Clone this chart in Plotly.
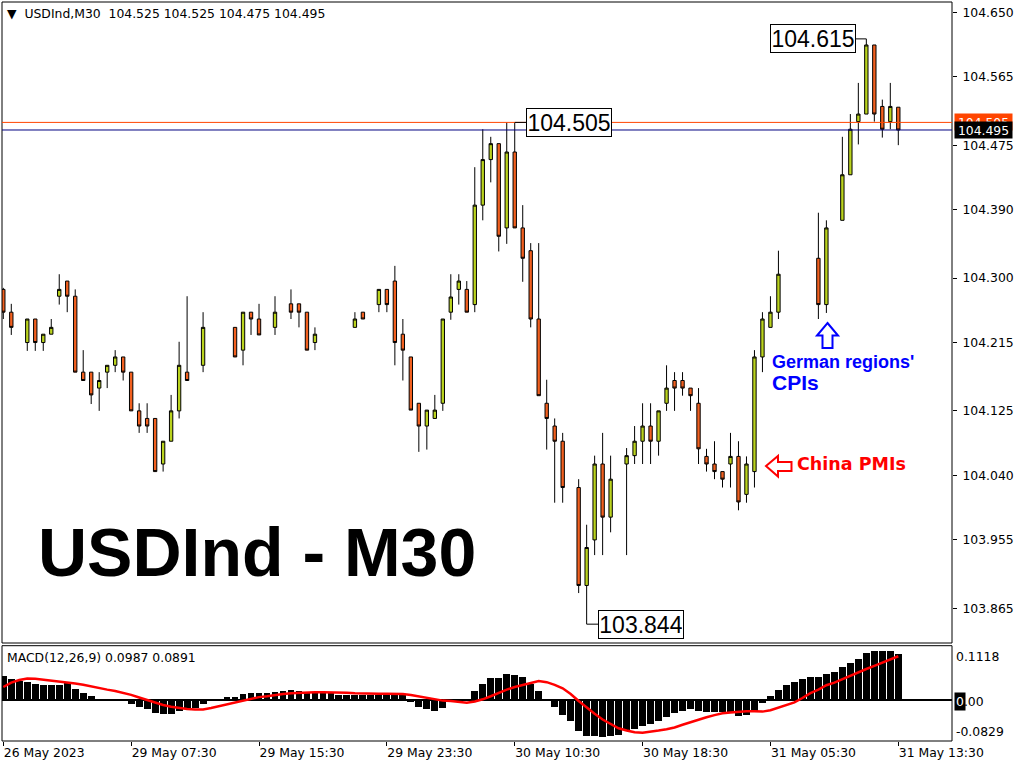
import plotly.graph_objects as go

# ---------------- data ----------------
bars = list(range(113))

opens = [104.285, 104.255, None, 104.215, 104.246, 104.215, 104.226, 104.276, 104.296, 104.276,
         104.176, 104.176, 104.155, 104.176, 104.185, 104.196, 104.176, 104.125, 104.115, 104.115,
         104.055, 104.085, 104.125, 104.176, None, 104.185, None, None, None, 104.235,
         104.205, 104.255, 104.246, None, 104.235, None, 104.266, 104.266, 104.255, 104.215,
         None, None, None, None, 104.235, 104.255, None, 104.265, 104.285, 104.296,
         104.226, 104.196, 104.135, 104.105, 104.115, 104.135, 104.255, 104.285, 104.285, 104.265,
         104.396, 104.456, 104.477, 104.366, 104.466, 104.366, 104.336, 104.246, 104.135, 104.105,
         104.085, None, 104.024, 103.895, 103.955, 104.055, 103.985, None, 104.055, 104.066,
         104.085, 104.105, 104.085, 104.135, 104.165, 104.165, 104.155, 104.135, 104.065, 104.055,
         104.045, 104.055, 104.065, 104.015, 104.045, 104.196, 104.235, 104.255, None, None,
         None, None, 104.326, 104.265, None, 104.376, 104.436, 104.506, 104.516, 104.607,
         104.526, 104.506, 104.525]
highs = [104.287, 104.266, None, 104.246, 104.246, 104.226, 104.246, 104.305, 104.296, 104.285,
         104.205, 104.176, 104.176, 104.185, 104.205, 104.196, 104.176, 104.135, 104.135, 104.115,
         104.085, 104.146, 104.216, 104.276, None, 104.255, None, None, None, 104.235,
         104.255, 104.255, 104.266, None, 104.276, None, 104.285, 104.266, 104.255, 104.235,
         None, None, None, None, 104.255, 104.255, None, 104.285, 104.285, 104.316,
         104.246, 104.196, 104.135, 104.126, 104.146, 104.246, 104.305, 104.305, 104.296, 104.446,
         104.496, 104.486, 104.477, 104.505, 104.505, 104.396, 104.346, 104.346, 104.166, 104.115,
         104.096, None, 104.035, 103.975, 104.066, 104.096, 104.066, None, 104.076, 104.105,
         104.135, 104.135, 104.125, 104.185, 104.176, 104.176, 104.155, 104.155, 104.075, 104.085,
         104.045, 104.096, 104.085, 104.065, 104.205, 104.255, 104.276, 104.336, None, None,
         None, None, 104.386, 104.376, None, 104.486, 104.516, 104.557, 104.615, 104.607,
         104.535, 104.557, 104.525]
lows = [104.246, 104.225, None, 104.204, 104.204, 104.204, 104.226, 104.265, 104.255, 104.176,
        104.165, 104.134, 104.125, 104.155, 104.176, 104.165, 104.125, 104.096, 104.096, 104.045,
        104.045, 104.085, 104.115, 104.165, None, 104.176, None, None, None, 104.196,
        104.185, 104.225, 104.225, None, 104.225, None, 104.246, 104.235, 104.205, 104.205,
        None, None, None, None, 104.235, 104.246, None, 104.255, 104.255, 104.185,
        104.165, 104.126, 104.071, 104.074, 104.115, 104.125, 104.245, 104.265, 104.255, 104.255,
        104.376, 104.426, 104.335, 104.345, 104.366, 104.295, 104.235, 104.145, 104.074, 104.004,
        104.004, None, 103.885, 103.844, 103.935, 103.935, 103.965, None, 103.935, 104.055,
        104.055, 104.055, 104.066, 104.125, 104.125, 104.145, 104.125, 104.055, 104.045, 104.035,
        104.024, 104.024, 103.994, 104.004, 104.024, 104.176, 104.235, 104.246, None, None,
        None, None, 104.246, 104.254, None, 104.376, 104.436, 104.476, 104.516, 104.506,
        104.485, 104.496, 104.475]
closes = [104.255, 104.235, None, 104.246, 104.215, 104.226, 104.235, 104.285, 104.276, 104.176,
          104.165, 104.146, 104.165, 104.185, 104.196, 104.176, 104.125, 104.105, 104.105, 104.045,
          104.085, 104.125, 104.185, 104.165, None, 104.235, None, None, None, 104.196,
          104.255, 104.246, 104.225, None, 104.255, None, 104.255, 104.255, 104.205, 104.226,
          None, None, None, None, 104.246, 104.246, None, 104.285, 104.265, 104.215,
          104.205, 104.126, 104.105, 104.126, 104.126, 104.246, 104.275, 104.296, 104.255, 104.396,
          104.456, 104.477, 104.355, 104.466, 104.366, 104.326, 104.246, 104.145, 104.115, 104.085,
          104.024, None, 103.895, 103.945, 104.055, 103.985, 104.035, None, 104.066, 104.085,
          104.105, 104.085, 104.125, 104.155, 104.155, 104.155, 104.145, 104.075, 104.055, 104.045,
          104.035, 104.065, 104.005, 104.055, 104.196, 104.246, 104.255, 104.305, None, None,
          None, None, 104.265, 104.366, None, 104.436, 104.496, 104.516, 104.607, 104.516,
          104.496, 104.526, 104.495]

macd_hist = [0.0548, 0.0495, 0.0441, 0.0419, 0.0380, 0.0358, 0.0358, 0.0358, 0.0419, 0.0266,
             0.0175, 0.0107, 0.0038, 0.0005, 0.0000, -0.0008, -0.0076, -0.0152, -0.0198, -0.0282,
             -0.0312, -0.0312, -0.0236, -0.0205, -0.0167, -0.0076, 0.0000, 0.0030, 0.0084, 0.0084,
             0.0137, 0.0160, 0.0160, 0.0160, 0.0183, 0.0205, 0.0228, 0.0205, 0.0183, 0.0183,
             0.0183, 0.0183, 0.0129, 0.0129, 0.0129, 0.0129, 0.0129, 0.0129, 0.0175, 0.0129,
             0.0129, -0.0038, -0.0137, -0.0190, -0.0243, -0.0175, -0.0015, 0.0000, 0.0038, 0.0205,
             0.0373, 0.0510, 0.0510, 0.0598, 0.0582, 0.0525, 0.0380, 0.0205, 0.0000, -0.0145,
             -0.0335, -0.0472, -0.0700, -0.0807, -0.0799, -0.0829, -0.0814, -0.0791, -0.0670, -0.0654,
             -0.0571, -0.0533, -0.0472, -0.0365, -0.0289, -0.0228, -0.0183, -0.0228, -0.0266, -0.0259,
             -0.0259, -0.0259, -0.0358, -0.0327, -0.0243, -0.0061, 0.0091, 0.0228, 0.0350, 0.0426,
             0.0479, 0.0525, 0.0525, 0.0594, 0.0654, 0.0761, 0.0860, 0.0951, 0.1088, 0.1118,
             0.1118, 0.1118, 0.1065]
macd_signal = [0.030, 0.040, 0.046, 0.0495, 0.049, 0.047, 0.0455, 0.043, 0.041, 0.038,
               0.035, 0.031, 0.027, 0.024, 0.021, 0.017, 0.012, 0.006, 0.000, -0.006,
               -0.011, -0.015, -0.018, -0.020, -0.021, -0.021, -0.018, -0.014, -0.010, -0.006,
               -0.002, 0.003, 0.007, 0.009, 0.012, 0.014, 0.016, 0.017, 0.018, 0.018,
               0.018, 0.018, 0.018, 0.017, 0.016, 0.015, 0.015, 0.0145, 0.0145, 0.0145,
               0.014, 0.012, 0.009, 0.006, 0.002, -0.001, -0.002, -0.004, -0.006, -0.003,
               0.002, 0.009, 0.017, 0.024, 0.030, 0.034, 0.039, 0.0434, 0.041, 0.035,
               0.027, 0.014, -0.002, -0.017, -0.031, -0.044, -0.054, -0.064, -0.069, -0.073,
               -0.074, -0.072, -0.069, -0.066, -0.062, -0.056, -0.050, -0.044, -0.039, -0.034,
               -0.030, -0.028, -0.026, -0.025, -0.025, -0.026, -0.023, -0.017, -0.012, -0.005,
               0.005, 0.016, 0.024, 0.034, 0.040, 0.048, 0.055, 0.063, 0.071, 0.078,
               0.085, 0.092, 0.100]

x_tick_idx = [0, 16, 32, 48, 64, 80, 96, 112]
x_tick_labels = ["26 May 2023", "29 May 07:30", "29 May 15:30", "29 May 23:30",
                 "30 May 10:30", "30 May 18:30", "31 May 05:30", "31 May 13:30"]
price_ticks = [104.650, 104.565, 104.475, 104.390, 104.300, 104.215, 104.125, 104.040, 103.955, 103.865]
macd_tick_labels = ["0.1118", "0.00", "-0.0829"]

header_text = "USDInd,M30\u00a0\u00a0104.525 104.525 104.475 104.495"
macd_text = "MACD(12,26,9) 0.0987 0.0891"
title_text = "USDInd - M30"
bid_price = 104.495
ask_price = 104.505
hi1_idx, hi1_val = 64, 104.505
lo_idx, lo_val = 73, 103.844
hi2_idx, hi2_val = 108, 104.615

# ---------------- styling ----------------
GREEN = "#BAD31E"
ORANGE = "#F2601F"
SMALL = "DejaVu Sans"
FS = 12.4

W, H = 1024, 768
ML, MR, MT, MB = 2, 72, 2, 27
PW, PH = W - ML - MR, H - MT - MB


def ppy(py):  # pixel y -> paper y
    return (H - MB - py) / PH


def ppx(px):  # pixel x -> paper x
    return (px - ML) / PW


def ppath(points):
    return "M " + " L ".join(f"{ppx(a):.5f},{ppy(b):.5f}" for a, b in points) + " Z"


main_dom = [ppy(643), 1.0]
macd_dom = [0.0, ppy(645.7)]
X_RANGE = [-0.163, 118.72]
Y_RANGE = [103.8192, 104.6636]
Y2_RANGE = [-0.0929, 0.124]

cx = [i for i in bars if opens[i] is not None]

fig = go.Figure()
fig.add_trace(go.Candlestick(
    x=cx,
    open=[opens[i] for i in cx], high=[highs[i] for i in cx],
    low=[lows[i] for i in cx], close=[closes[i] for i in cx],
    xaxis="x", yaxis="y",
    increasing=dict(line=dict(color="black", width=1), fillcolor=GREEN),
    decreasing=dict(line=dict(color="black", width=1), fillcolor=ORANGE),
    whiskerwidth=0, hoverinfo="skip", showlegend=False))
fig.add_trace(go.Bar(
    x=bars, y=macd_hist, xaxis="x", yaxis="y2", width=0.86,
    marker=dict(color="black", line=dict(width=0)), hoverinfo="skip", showlegend=False))
fig.add_trace(go.Scatter(
    x=bars, y=macd_signal, xaxis="x", yaxis="y2", mode="lines",
    line=dict(color="#FF0000", width=2.5), hoverinfo="skip", showlegend=False))

shapes = [
    dict(type="rect", xref="paper", yref="paper", x0=0, x1=1, y0=main_dom[0], y1=main_dom[1],
         line=dict(color="black", width=1), fillcolor="rgba(0,0,0,0)"),
    dict(type="rect", xref="paper", yref="paper", x0=0, x1=1, y0=macd_dom[0], y1=macd_dom[1],
         line=dict(color="black", width=1), fillcolor="rgba(0,0,0,0)"),
    dict(type="line", xref="paper", yref="y", x0=0, x1=1, y0=ask_price, y1=ask_price,
         line=dict(color="#FF4500", width=1)),
    dict(type="line", xref="paper", yref="y", x0=0, x1=1, y0=bid_price, y1=bid_price,
         line=dict(color="#000080", width=1)),
    # hollow left arrow (China PMIs)
    dict(type="path", xref="paper", yref="paper",
         path=ppath([(766, 466), (778, 456), (778, 462), (791.5, 462), (791.5, 471), (778, 471), (778, 476.5)]),
         line=dict(color="#FF0000", width=2), fillcolor="white"),
    # hollow up arrow (German CPIs)
    dict(type="path", xref="paper", yref="paper",
         path=ppath([(827.5, 323), (838, 335.5), (832.5, 335.5), (832.5, 348), (822.5, 348), (822.5, 335.5), (817, 335.5)]),
         line=dict(color="#0000FF", width=2), fillcolor="white"),
]

ann = []
# header
ann.append(dict(xref="paper", yref="paper", x=ppx(5), y=ppy(14), xanchor="left", yanchor="middle",
                text="\u25bc\u00a0\u00a0" + header_text, showarrow=False,
                font=dict(family=SMALL, size=FS, color="black")))
# MACD label
ann.append(dict(xref="paper", yref="paper", x=ppx(5), y=ppy(657.5), xanchor="left", yanchor="middle",
                text=macd_text, showarrow=False, font=dict(family=SMALL, size=FS, color="black")))
# big title
ann.append(dict(xref="paper", yref="paper", x=ppx(36), y=ppy(551.5), xanchor="left", yanchor="middle",
                text="<b>" + title_text + "</b>", showarrow=False,
                font=dict(family="Liberation Sans, Arial", size=68, color="black")))
# event labels
ann.append(dict(xref="paper", yref="paper", x=ppx(770), y=ppy(362.5), xanchor="left", yanchor="middle",
                text="<b>German regions'</b>", showarrow=False,
                font=dict(family="Liberation Sans, Arial", size=18, color="#0000FF")))
ann.append(dict(xref="paper", yref="paper", x=ppx(770), y=ppy(382.5), xanchor="left", yanchor="middle",
                text="<b>CPIs</b>", showarrow=False,
                font=dict(family="Liberation Sans, Arial", size=21, color="#0000FF")))
ann.append(dict(xref="paper", yref="paper", x=ppx(795), y=ppy(464), xanchor="left", yanchor="middle",
                text="<b>China PMIs</b>", showarrow=False,
                font=dict(family="DejaVu Sans", size=17.5, color="#FF0000")))
# high / low price boxes
for idx, val, dx in [(hi1_idx, hi1_val, 54), (lo_idx, lo_val, 54), (hi2_idx, hi2_val, -53)]:
    ann.append(dict(xref="x", yref="y", x=idx, y=val, ax=dx, ay=0, showarrow=True, arrowhead=0,
                    arrowwidth=1, arrowcolor="black", text=f"{val:.3f}", bgcolor="white",
                    bordercolor="black", borderwidth=1, borderpad=1, width=82, height=25,
                    font=dict(family="Liberation Sans, Arial", size=23, color="black")))
# right side price tags
ann.append(dict(xref="paper", yref="y", x=1, y=ask_price, xanchor="left", yanchor="middle", xshift=2,
                text=f"{ask_price:.3f}", showarrow=False, bgcolor="#FF4500", borderpad=1, width=55, height=14,
                font=dict(family=SMALL, size=FS, color="white")))
ann.append(dict(xref="paper", yref="y", x=1, y=bid_price, xanchor="left", yanchor="middle", xshift=2,
                text=f"{bid_price:.3f}", showarrow=False, bgcolor="black", borderpad=1, width=55, height=14,
                font=dict(family=SMALL, size=FS, color="white")))
# MACD scale labels
macd_label_py = [656, 701.7, 731]
for lab, py in zip(macd_tick_labels, macd_label_py):
    ann.append(dict(xref="paper", yref="paper", x=1, y=ppy(py), xanchor="left", yanchor="middle", xshift=2,
                    text=lab, showarrow=False, borderpad=1,
                    font=dict(family=SMALL, size=FS, color="black")))
ann.append(dict(xref="paper", yref="paper", x=1, y=ppy(701.5), xanchor="left", yanchor="middle", xshift=2,
                text="0", showarrow=False, bgcolor="black", borderpad=1,
                font=dict(family=SMALL, size=FS, color="white")))

fig.update_layout(
    width=W, height=H, margin=dict(l=ML, r=MR, t=MT, b=MB, pad=0),
    paper_bgcolor="white", plot_bgcolor="white", showlegend=False,
    shapes=shapes, annotations=ann,
    boxgap=0.4, bargap=0,
    xaxis=dict(domain=[0, 1], range=X_RANGE, anchor="y2", tickmode="array",
               tickvals=x_tick_idx, ticktext=x_tick_labels, ticks="outside", ticklen=4,
               tickcolor="black", ticklabelposition="outside right",
               tickfont=dict(family=SMALL, size=FS, color="black"),
               showgrid=False, zeroline=False, showline=False, rangeslider=dict(visible=False)),
    yaxis=dict(domain=main_dom, range=Y_RANGE, side="right", anchor="x", tickmode="array",
               tickvals=price_ticks, ticktext=[f"{v:.3f}" for v in price_ticks],
               ticks="outside", ticklen=4, tickcolor="black", ticklabelstandoff=3,
               tickfont=dict(family=SMALL, size=FS, color="black"),
               showgrid=False, zeroline=False, showline=False),
    yaxis2=dict(domain=macd_dom, range=Y2_RANGE, side="right", anchor="x",
                showticklabels=False, ticks="", showgrid=False,
                zeroline=True, zerolinecolor="black", zerolinewidth=2, showline=False),
)

fig.write_html("out.html", config={"displayModeBar": False},
               post_script="document.body.style.margin='0px';document.body.style.padding='0px';")
